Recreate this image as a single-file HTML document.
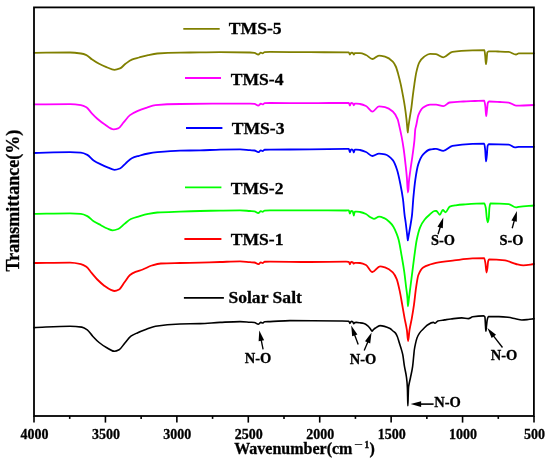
<!DOCTYPE html>
<html><head><meta charset="utf-8"><title>FTIR</title>
<style>
html,body{margin:0;padding:0;background:#fff;}
body{width:550px;height:461px;overflow:hidden;}
svg{display:block;}
text{font-family:'Liberation Serif', 'Times New Roman', serif;font-weight:bold;fill:#000;stroke:#000;stroke-width:0.3px;}
</style></head><body>
<svg width="550" height="461" viewBox="0 0 550 461">
<rect width="550" height="461" fill="#fff"/>
<path d="M34.00,52.80 C46.00,52.70 58.00,52.50 70.00,52.50 C73.63,52.50 77.27,52.96 80.90,53.50 C82.73,53.77 84.57,54.32 86.40,55.10 C88.20,55.86 90.00,58.05 91.80,59.30 C94.23,60.98 96.67,62.53 99.10,63.80 C101.53,65.07 103.97,66.16 106.40,67.10 C109.10,68.14 111.80,69.80 114.50,69.80 C116.33,69.80 118.17,69.12 120.00,68.40 C121.83,67.68 123.67,65.16 125.50,63.80 C127.60,62.24 129.70,60.45 131.80,59.60 C134.23,58.61 136.67,58.17 139.10,57.50 C142.13,56.66 145.17,55.74 148.20,55.10 C151.23,54.46 154.27,53.72 157.30,53.50 C164.87,52.96 172.43,52.72 180.00,52.60 C186.67,52.49 193.33,52.47 200.00,52.40 C206.67,52.33 213.33,52.20 220.00,52.20 C230.00,52.20 240.00,52.29 250.00,52.50 C251.50,52.53 253.00,52.62 254.50,52.80 C255.77,52.95 257.03,54.50 258.30,54.50 C259.17,54.50 260.03,52.65 260.90,52.65 C261.47,52.65 262.03,53.35 262.60,53.35 C263.30,53.35 264.00,52.09 264.70,52.05 C266.47,51.94 268.23,51.90 270.00,51.90 C283.33,51.90 296.67,52.12 310.00,52.20 C322.93,52.28 335.87,52.21 348.80,52.40 C349.17,52.41 349.53,54.60 349.90,54.60 C350.23,54.60 350.57,53.12 350.90,52.90 C351.13,52.75 351.37,52.60 351.60,52.60 C351.97,52.60 352.33,52.73 352.70,52.90 C353.07,53.07 353.43,54.60 353.80,54.60 C354.13,54.60 354.47,53.20 354.80,53.20 C355.37,53.20 355.93,53.20 356.50,53.20 C357.67,53.20 358.83,53.20 360.00,53.20 C362.00,53.20 364.00,54.19 366.00,55.00 C368.13,55.86 370.27,59.00 372.40,59.00 C374.60,59.00 376.80,55.60 379.00,55.60 C381.00,55.60 383.00,56.15 385.00,56.70 C387.60,57.42 390.20,59.07 392.80,61.60 C393.80,62.57 394.80,64.33 395.80,66.50 C396.63,68.31 397.47,71.44 398.30,74.40 C399.10,77.24 399.90,80.48 400.70,84.10 C401.47,87.57 402.23,91.70 403.00,95.90 C403.67,99.55 404.33,103.10 405.00,107.60 C405.50,110.98 406.00,114.84 406.50,119.40 C406.83,122.44 407.17,126.88 407.50,130.00 C407.60,130.94 407.70,132.60 407.80,132.60 C407.90,132.60 408.00,130.11 408.10,129.20 C408.57,124.94 409.03,122.48 409.50,119.40 C410.13,115.22 410.77,112.15 411.40,107.60 C411.87,104.25 412.33,99.56 412.80,95.90 C413.33,91.72 413.87,87.69 414.40,84.10 C415.03,79.84 415.67,75.22 416.30,72.40 C417.27,68.09 418.23,64.39 419.20,62.60 C420.83,59.58 422.47,57.86 424.10,56.70 C426.07,55.31 428.03,53.80 430.00,53.80 C432.00,53.80 434.00,53.97 436.00,54.20 C438.43,54.47 440.87,57.30 443.30,57.30 C446.33,57.30 449.37,52.22 452.40,51.80 C459.07,50.87 465.73,50.57 472.40,50.40 C476.40,50.30 480.40,50.20 484.40,50.20 C484.67,50.20 484.93,53.60 485.20,56.00 C485.43,58.10 485.67,64.20 485.90,64.20 C486.13,64.20 486.37,61.79 486.60,60.00 C486.83,58.21 487.07,52.91 487.30,52.50 C487.77,51.68 488.23,51.30 488.70,51.30 C491.80,51.30 494.90,51.42 498.00,51.50 C501.57,51.60 505.13,51.65 508.70,51.90 C511.13,52.07 513.57,54.50 516.00,54.50 C516.90,54.50 517.80,53.30 518.70,53.30 C523.80,53.30 528.90,53.30 534.00,53.30" fill="none" stroke="#808000" stroke-width="1.8" stroke-linejoin="round" stroke-linecap="round"/>
<path d="M34.00,104.40 C46.00,104.33 58.00,104.20 70.00,104.20 C73.63,104.20 77.27,104.56 80.90,105.10 C82.73,105.37 84.57,106.22 86.40,107.30 C88.20,108.36 90.00,111.42 91.80,113.30 C93.63,115.21 95.47,117.12 97.30,118.70 C99.70,120.77 102.10,122.64 104.50,124.20 C107.53,126.17 110.57,129.30 113.60,129.30 C115.13,129.30 116.67,128.90 118.20,128.40 C120.00,127.81 121.80,124.43 123.60,122.40 C125.73,120.00 127.87,116.69 130.00,115.10 C132.43,113.28 134.87,112.17 137.30,111.10 C140.33,109.77 143.37,108.79 146.40,107.80 C149.43,106.81 152.47,105.37 155.50,105.10 C163.67,104.38 171.83,104.09 180.00,104.00 C203.33,103.73 226.67,103.60 250.00,103.60 C251.50,103.60 253.00,103.72 254.50,103.90 C255.77,104.05 257.03,105.60 258.30,105.60 C259.17,105.60 260.03,103.75 260.90,103.75 C261.47,103.75 262.03,104.45 262.60,104.45 C263.30,104.45 264.00,103.19 264.70,103.15 C266.47,103.04 268.23,103.00 270.00,103.00 C283.33,103.00 296.67,103.20 310.00,103.20 C322.93,103.20 335.87,102.80 348.80,102.80 C349.17,102.80 349.53,105.60 349.90,105.60 C350.23,105.60 350.57,103.53 350.90,103.30 C351.13,103.14 351.37,103.00 351.60,103.00 C351.97,103.00 352.33,103.13 352.70,103.30 C353.07,103.47 353.43,105.30 353.80,105.30 C354.13,105.30 354.47,103.60 354.80,103.60 C355.37,103.60 355.93,103.60 356.50,103.60 C357.67,103.60 358.83,103.81 360.00,104.00 C362.00,104.33 364.00,105.04 366.00,106.00 C368.13,107.02 370.27,111.60 372.40,111.60 C374.60,111.60 376.80,106.40 379.00,106.40 C381.00,106.40 383.00,106.78 385.00,107.20 C387.60,107.74 390.20,109.28 392.80,111.50 C394.43,112.89 396.07,115.33 397.70,119.40 C398.17,120.56 398.63,123.00 399.10,125.00 C399.93,128.57 400.77,132.33 401.60,136.70 C402.27,140.19 402.93,143.92 403.60,148.50 C404.23,152.85 404.87,158.42 405.50,164.10 C405.97,168.29 406.43,172.25 406.90,177.80 C407.23,181.76 407.57,192.50 407.90,192.50 C408.07,192.50 408.23,190.94 408.40,189.50 C408.57,188.06 408.73,183.63 408.90,181.80 C409.40,176.30 409.90,173.67 410.40,170.00 C411.07,165.10 411.73,161.16 412.40,156.30 C413.07,151.44 413.73,147.36 414.40,140.70 C414.70,137.70 415.00,131.11 415.30,129.20 C415.63,127.07 415.97,126.48 416.30,125.00 C416.97,122.04 417.63,117.11 418.30,115.40 C419.93,111.20 421.57,108.73 423.20,107.60 C425.47,106.03 427.73,104.70 430.00,104.70 C432.00,104.70 434.00,104.70 436.00,104.70 C438.43,104.70 440.87,106.20 443.30,106.20 C445.40,106.20 447.50,102.80 449.60,102.50 C454.17,101.84 458.73,101.74 463.30,101.50 C467.20,101.29 471.10,101.17 475.00,101.00 C478.07,100.87 481.13,100.60 484.20,100.60 C484.57,100.60 484.93,103.45 485.30,106.00 C485.60,108.08 485.90,116.20 486.20,116.20 C486.47,116.20 486.73,112.19 487.00,110.00 C487.27,107.81 487.53,103.58 487.80,103.00 C488.23,102.06 488.67,101.50 489.10,101.50 C492.73,101.50 496.37,101.80 500.00,102.00 C502.90,102.16 505.80,102.25 508.70,102.60 C511.13,102.89 513.57,105.60 516.00,105.60 C517.20,105.60 518.40,105.60 519.60,105.60 C524.40,105.60 529.20,105.20 534.00,105.00" fill="none" stroke="#ff00ff" stroke-width="1.8" stroke-linejoin="round" stroke-linecap="round"/>
<path d="M34.00,153.00 C46.00,152.73 58.00,152.20 70.00,152.20 C73.63,152.20 77.27,152.39 80.90,152.70 C83.03,152.88 85.17,153.85 87.30,154.90 C89.40,155.94 91.50,158.98 93.60,160.40 C96.03,162.05 98.47,163.21 100.90,164.40 C103.33,165.59 105.77,166.66 108.20,167.60 C110.30,168.41 112.40,169.80 114.50,169.80 C116.33,169.80 118.17,169.18 120.00,168.50 C121.83,167.82 123.67,165.20 125.50,163.60 C127.60,161.76 129.70,159.21 131.80,158.20 C134.23,157.03 136.67,156.50 139.10,155.80 C142.13,154.93 145.17,154.05 148.20,153.50 C151.23,152.95 154.27,152.50 157.30,152.20 C164.87,151.45 172.43,150.73 180.00,150.60 C186.67,150.49 193.33,150.51 200.00,150.40 C206.67,150.29 213.33,149.71 220.00,149.60 C226.67,149.49 233.33,149.40 240.00,149.40 C243.33,149.40 246.67,149.96 250.00,150.20 C251.50,150.31 253.00,150.32 254.50,150.50 C255.77,150.65 257.03,152.20 258.30,152.20 C259.17,152.20 260.03,150.35 260.90,150.35 C261.47,150.35 262.03,151.05 262.60,151.05 C263.30,151.05 264.00,149.79 264.70,149.75 C266.47,149.64 268.23,149.62 270.00,149.60 C283.33,149.46 296.67,149.50 310.00,149.40 C322.00,149.31 334.00,149.17 346.00,148.90 C346.93,148.88 347.87,148.80 348.80,148.80 C349.17,148.80 349.53,152.20 349.90,152.20 C350.23,152.20 350.57,149.93 350.90,149.70 C351.13,149.54 351.37,149.40 351.60,149.40 C351.97,149.40 352.33,149.52 352.70,149.70 C353.07,149.88 353.43,152.50 353.80,152.50 C354.13,152.50 354.47,149.60 354.80,149.60 C355.37,149.60 355.93,149.60 356.50,149.60 C357.67,149.60 358.83,149.81 360.00,150.00 C362.00,150.33 364.00,151.13 366.00,152.00 C368.13,152.92 370.27,156.00 372.40,156.00 C374.60,156.00 376.80,153.60 379.00,153.60 C381.00,153.60 383.00,153.96 385.00,154.40 C387.60,154.97 390.20,157.13 392.80,160.20 C394.23,161.89 395.67,165.67 397.10,170.00 C398.17,173.22 399.23,178.42 400.30,183.70 C401.20,188.16 402.10,192.66 403.00,199.40 C403.53,203.39 404.07,210.96 404.60,215.20 C404.93,217.85 405.27,219.53 405.60,222.00 C406.20,226.45 406.80,231.94 407.40,237.00 C407.53,238.12 407.67,240.40 407.80,240.40 C408.00,240.40 408.20,238.15 408.40,237.00 C409.40,231.27 410.40,226.08 411.40,219.50 C411.60,218.18 411.80,216.97 412.00,215.20 C412.47,211.08 412.93,202.44 413.40,197.40 C414.03,190.56 414.67,184.13 415.30,179.80 C416.30,172.97 417.30,167.08 418.30,164.10 C419.93,159.23 421.57,156.17 423.20,154.40 C425.47,151.94 427.73,149.96 430.00,149.50 C431.33,149.23 432.67,149.15 434.00,149.00 C434.67,148.93 435.33,148.80 436.00,148.80 C438.43,148.80 440.87,150.80 443.30,150.80 C446.33,150.80 449.37,146.48 452.40,145.90 C459.07,144.62 465.73,143.98 472.40,143.80 C476.33,143.69 480.27,143.60 484.20,143.60 C484.53,143.60 484.87,147.01 485.20,150.00 C485.47,152.39 485.73,161.40 486.00,161.40 C486.27,161.40 486.53,158.34 486.80,156.00 C487.07,153.66 487.33,146.84 487.60,146.00 C487.97,144.84 488.33,144.10 488.70,144.10 C495.37,144.10 502.03,144.23 508.70,144.60 C510.83,144.72 512.97,147.40 515.10,147.40 C516.30,147.40 517.50,146.80 518.70,146.80 C523.80,146.80 528.90,146.80 534.00,146.80" fill="none" stroke="#0000ff" stroke-width="1.8" stroke-linejoin="round" stroke-linecap="round"/>
<path d="M34.00,213.80 C46.00,213.67 58.00,213.40 70.00,213.40 C73.63,213.40 77.27,213.59 80.90,213.90 C83.03,214.08 85.17,215.07 87.30,216.10 C89.40,217.11 91.50,219.82 93.60,221.20 C96.03,222.80 98.47,223.91 100.90,225.20 C103.03,226.33 105.17,227.64 107.30,228.50 C109.10,229.22 110.90,230.30 112.70,230.30 C114.53,230.30 116.37,229.66 118.20,229.00 C120.30,228.24 122.40,225.55 124.50,223.90 C126.63,222.22 128.77,220.00 130.90,219.00 C133.63,217.72 136.37,217.10 139.10,216.30 C142.13,215.41 145.17,214.49 148.20,213.90 C151.23,213.31 154.27,212.71 157.30,212.50 C164.87,211.98 172.43,211.86 180.00,211.60 C186.67,211.37 193.33,211.16 200.00,211.00 C206.67,210.84 213.33,210.69 220.00,210.60 C226.67,210.51 233.33,210.40 240.00,210.40 C243.33,210.40 246.67,210.79 250.00,211.00 C251.50,211.10 253.00,211.12 254.50,211.30 C255.77,211.45 257.03,213.00 258.30,213.00 C259.17,213.00 260.03,211.15 260.90,211.15 C261.47,211.15 262.03,211.85 262.60,211.85 C263.30,211.85 264.00,210.59 264.70,210.55 C266.47,210.44 268.23,210.40 270.00,210.40 C283.33,210.40 296.67,210.40 310.00,210.40 C322.00,210.40 334.00,210.50 346.00,210.50 C346.93,210.50 347.87,210.30 348.80,210.30 C349.17,210.30 349.53,213.60 349.90,213.60 C350.23,213.60 350.57,211.53 350.90,211.30 C351.13,211.14 351.37,211.00 351.60,211.00 C351.97,211.00 352.33,211.11 352.70,211.30 C353.07,211.49 353.43,215.50 353.80,215.50 C354.13,215.50 354.47,211.60 354.80,211.60 C355.37,211.60 355.93,211.60 356.50,211.60 C357.67,211.60 358.83,211.81 360.00,212.00 C362.00,212.33 364.00,213.05 366.00,214.00 C367.33,214.63 368.67,216.21 370.00,217.00 C371.30,217.77 372.60,218.90 373.90,218.90 C375.63,218.90 377.37,216.70 379.10,216.70 C380.83,216.70 382.57,217.48 384.30,218.20 C386.03,218.92 387.77,220.40 389.50,222.00 C390.80,223.20 392.10,224.67 393.40,226.70 C394.50,228.42 395.60,231.06 396.70,233.90 C397.37,235.62 398.03,237.44 398.70,240.00 C399.67,243.71 400.63,250.19 401.60,255.70 C402.47,260.64 403.33,265.22 404.20,271.30 C404.83,275.74 405.47,281.74 406.10,287.00 C406.57,290.88 407.03,292.86 407.50,298.70 C407.63,300.37 407.77,306.30 407.90,306.30 C408.23,306.30 408.57,301.26 408.90,298.70 C409.40,294.85 409.90,290.91 410.40,287.00 C411.07,281.78 411.73,276.52 412.40,271.30 C413.07,266.08 413.73,260.56 414.40,255.70 C415.17,250.11 415.93,243.77 416.70,240.00 C417.83,234.42 418.97,229.99 420.10,227.30 C421.63,223.66 423.17,221.43 424.70,219.50 C426.30,217.48 427.90,216.05 429.50,214.70 C431.30,213.19 433.10,210.80 434.90,210.80 C435.43,210.80 435.97,210.89 436.50,211.00 C437.60,211.23 438.70,214.80 439.80,214.80 C440.80,214.80 441.80,210.00 442.80,210.00 C443.73,210.00 444.67,212.30 445.60,212.30 C446.97,212.30 448.33,207.13 449.70,206.60 C451.73,205.81 453.77,205.59 455.80,205.30 C458.30,204.94 460.80,204.69 463.30,204.50 C470.27,203.98 477.23,203.40 484.20,203.40 C484.73,203.40 485.27,205.51 485.80,208.00 C486.13,209.55 486.47,216.00 486.80,218.00 C487.13,220.00 487.47,222.30 487.80,222.30 C488.13,222.30 488.47,220.40 488.80,218.00 C489.00,216.56 489.20,209.51 489.40,208.00 C489.73,205.48 490.07,203.40 490.40,203.40 C496.50,203.40 502.60,203.61 508.70,204.10 C511.13,204.30 513.57,207.40 516.00,207.40 C516.90,207.40 517.80,206.92 518.70,206.80 C523.80,206.10 528.90,205.93 534.00,205.50" fill="none" stroke="#00ff00" stroke-width="1.8" stroke-linejoin="round" stroke-linecap="round"/>
<path d="M34.00,263.00 C46.00,262.87 58.00,262.60 70.00,262.60 C73.63,262.60 77.27,263.27 80.90,264.10 C82.73,264.52 84.57,265.53 86.40,266.80 C88.20,268.05 90.00,271.10 91.80,273.20 C93.63,275.34 95.47,277.65 97.30,279.50 C99.70,281.92 102.10,284.14 104.50,285.90 C106.63,287.46 108.77,289.05 110.90,289.90 C112.10,290.38 113.30,291.00 114.50,291.00 C116.03,291.00 117.57,290.29 119.10,289.50 C120.90,288.57 122.70,284.69 124.50,282.30 C126.33,279.86 128.17,276.45 130.00,275.00 C131.83,273.55 133.67,272.68 135.50,271.90 C137.90,270.88 140.30,270.41 142.70,269.50 C145.73,268.36 148.77,266.39 151.80,265.50 C154.83,264.61 157.87,263.66 160.90,263.50 C167.27,263.17 173.63,263.14 180.00,263.00 C186.67,262.85 193.33,262.76 200.00,262.60 C206.67,262.44 213.33,262.20 220.00,262.00 C226.67,261.80 233.33,261.40 240.00,261.40 C243.33,261.40 246.67,261.96 250.00,262.20 C251.50,262.31 253.00,262.32 254.50,262.50 C255.77,262.65 257.03,264.20 258.30,264.20 C259.17,264.20 260.03,262.35 260.90,262.35 C261.47,262.35 262.03,263.05 262.60,263.05 C263.30,263.05 264.00,261.79 264.70,261.75 C266.47,261.64 268.23,261.60 270.00,261.60 C283.33,261.60 296.67,262.00 310.00,262.00 C322.00,262.00 334.00,261.70 346.00,261.70 C346.93,261.70 347.87,261.72 348.80,261.80 C349.17,261.83 349.53,264.30 349.90,264.30 C350.23,264.30 350.57,262.53 350.90,262.30 C351.13,262.14 351.37,262.00 351.60,262.00 C351.97,262.00 352.33,262.14 352.70,262.30 C353.07,262.46 353.43,263.70 353.80,263.70 C354.13,263.70 354.47,262.80 354.80,262.80 C355.37,262.80 355.93,262.80 356.50,262.80 C357.67,262.80 358.83,262.89 360.00,263.00 C362.00,263.18 364.00,263.98 366.00,265.00 C368.13,266.08 370.27,272.00 372.40,272.00 C374.93,272.00 377.47,266.40 380.00,266.40 C381.67,266.40 383.33,266.91 385.00,267.40 C387.60,268.16 390.20,269.77 392.80,272.30 C394.10,273.57 395.40,275.91 396.70,279.10 C397.70,281.56 398.70,286.30 399.70,290.90 C400.53,294.74 401.37,299.94 402.20,304.60 C403.00,309.07 403.80,313.96 404.60,318.30 C405.37,322.46 406.13,325.00 406.90,330.20 C407.30,332.92 407.70,341.10 408.10,341.10 C408.57,341.10 409.03,333.15 409.50,330.20 C410.27,325.35 411.03,322.64 411.80,318.30 C412.53,314.15 413.27,309.83 414.00,304.60 C414.63,300.09 415.27,293.21 415.90,288.90 C416.70,283.46 417.50,277.33 418.30,275.20 C419.93,270.85 421.57,268.53 423.20,267.40 C425.47,265.83 427.73,265.24 430.00,264.50 C432.00,263.85 434.00,263.28 436.00,262.90 C442.07,261.74 448.13,261.14 454.20,260.40 C460.27,259.66 466.33,258.64 472.40,258.40 C476.33,258.24 480.27,258.10 484.20,258.10 C484.60,258.10 485.00,260.77 485.40,263.00 C485.77,265.04 486.13,272.50 486.50,272.50 C486.80,272.50 487.10,269.92 487.40,268.00 C487.67,266.29 487.93,261.84 488.20,261.00 C488.50,260.06 488.80,259.30 489.10,259.30 C494.43,259.30 499.77,259.77 505.10,260.40 C508.73,260.83 512.37,263.18 516.00,264.00 C518.43,264.55 520.87,265.30 523.30,265.30 C526.87,265.30 530.43,264.43 534.00,264.00" fill="none" stroke="#ff0000" stroke-width="1.8" stroke-linejoin="round" stroke-linecap="round"/>
<path d="M34.00,327.60 C46.00,327.13 58.00,326.20 70.00,326.20 C73.93,326.20 77.87,326.53 81.80,327.10 C83.63,327.37 85.47,328.53 87.30,329.80 C89.10,331.05 90.90,334.26 92.70,336.20 C94.83,338.50 96.97,340.77 99.10,342.50 C101.53,344.47 103.97,346.14 106.40,347.50 C109.10,349.01 111.80,351.30 114.50,351.30 C116.03,351.30 117.57,350.57 119.10,349.80 C120.90,348.90 122.70,345.58 124.50,343.50 C126.63,341.04 128.77,337.72 130.90,336.20 C133.03,334.68 135.17,333.86 137.30,332.90 C140.33,331.53 143.37,330.41 146.40,329.30 C149.43,328.19 152.47,326.67 155.50,326.20 C163.67,324.93 171.83,324.26 180.00,324.00 C186.67,323.79 193.33,323.80 200.00,323.60 C206.67,323.40 213.33,322.72 220.00,322.40 C226.67,322.08 233.33,321.60 240.00,321.60 C243.33,321.60 246.67,321.99 250.00,322.20 C251.50,322.30 253.00,322.32 254.50,322.50 C255.77,322.65 257.03,324.20 258.30,324.20 C259.17,324.20 260.03,322.35 260.90,322.35 C261.47,322.35 262.03,323.05 262.60,323.05 C263.30,323.05 264.00,321.79 264.70,321.75 C266.47,321.64 268.23,321.66 270.00,321.60 C276.67,321.37 283.33,320.60 290.00,320.60 C306.67,320.60 323.33,320.78 340.00,321.00 C342.93,321.04 345.87,321.02 348.80,321.20 C349.17,321.22 349.53,323.40 349.90,323.40 C350.23,323.40 350.57,321.92 350.90,321.70 C351.13,321.55 351.37,321.40 351.60,321.40 C351.97,321.40 352.33,321.53 352.70,321.70 C353.07,321.87 353.43,323.70 353.80,323.70 C354.13,323.70 354.47,322.68 354.80,322.60 C355.37,322.47 355.93,322.40 356.50,322.40 C357.67,322.40 358.83,322.64 360.00,322.80 C361.33,322.98 362.67,323.14 364.00,323.50 C365.27,323.85 366.53,324.77 367.80,325.80 C368.70,326.53 369.60,327.84 370.50,329.00 C371.00,329.65 371.50,331.10 372.00,331.10 C372.50,331.10 373.00,329.96 373.50,329.50 C374.13,328.92 374.77,328.41 375.40,328.00 C376.93,327.01 378.47,325.60 380.00,325.60 C383.33,325.60 386.67,326.91 390.00,328.50 C390.97,328.96 391.93,330.19 392.90,331.00 C393.77,331.72 394.63,332.10 395.50,333.10 C396.13,333.83 396.77,335.18 397.40,336.70 C398.00,338.14 398.60,340.69 399.20,342.60 C399.83,344.62 400.47,346.36 401.10,348.50 C401.63,350.30 402.17,351.86 402.70,354.40 C403.30,357.26 403.90,363.07 404.50,366.70 C405.17,370.73 405.83,372.34 406.50,377.50 C406.80,379.82 407.10,381.87 407.40,388.00 C407.47,389.36 407.53,393.36 407.60,396.00 C407.68,399.30 407.77,405.80 407.85,405.80 C407.97,405.80 408.08,399.18 408.20,396.00 C408.30,393.27 408.40,389.20 408.50,388.00 C408.63,386.40 408.77,385.81 408.90,385.00 C409.43,381.77 409.97,380.11 410.50,377.50 C411.20,374.07 411.90,371.57 412.60,366.70 C412.97,364.15 413.33,359.62 413.70,356.00 C413.90,354.02 414.10,351.44 414.30,350.00 C414.67,347.36 415.03,345.78 415.40,344.10 C415.90,341.81 416.40,339.55 416.90,338.20 C417.77,335.86 418.63,334.33 419.50,333.10 C421.00,330.97 422.50,329.82 424.00,328.30 C425.13,327.15 426.27,325.70 427.40,325.00 C429.40,323.76 431.40,322.40 433.40,322.40 C434.00,322.40 434.60,323.20 435.20,323.20 C436.07,323.20 436.93,321.26 437.80,321.00 C440.10,320.31 442.40,320.25 444.70,319.90 C446.77,319.59 448.83,319.25 450.90,319.00 C454.53,318.56 458.17,317.90 461.80,317.90 C464.00,317.90 466.20,318.60 468.40,318.60 C469.83,318.60 471.27,317.02 472.70,316.80 C476.33,316.24 479.97,315.90 483.60,315.90 C484.03,315.90 484.47,316.22 484.90,317.00 C485.10,317.36 485.30,323.23 485.50,326.00 C485.63,327.85 485.77,331.20 485.90,331.20 C486.10,331.20 486.30,327.72 486.50,326.00 C486.73,323.99 486.97,321.01 487.20,320.00 C487.63,318.13 488.07,316.50 488.50,316.50 C492.00,316.50 495.50,316.54 499.00,316.60 C502.07,316.65 505.13,316.95 508.20,317.30 C510.63,317.58 513.07,318.32 515.50,318.80 C517.60,319.21 519.70,320.00 521.80,320.00 C523.93,320.00 526.07,319.72 528.20,319.50 C530.13,319.30 532.07,318.90 534.00,318.60" fill="none" stroke="#000000" stroke-width="1.6" stroke-linejoin="round" stroke-linecap="round"/>
<rect x="34" y="7.4" width="499.9" height="408.6" fill="none" stroke="#000" stroke-width="1.8"/><line x1="534.00" y1="416" x2="534.00" y2="422.6" stroke="#000" stroke-width="1.6"/><line x1="498.29" y1="416" x2="498.29" y2="418.9" stroke="#000" stroke-width="1.6"/><line x1="462.57" y1="416" x2="462.57" y2="422.6" stroke="#000" stroke-width="1.6"/><line x1="426.86" y1="416" x2="426.86" y2="418.9" stroke="#000" stroke-width="1.6"/><line x1="391.14" y1="416" x2="391.14" y2="422.6" stroke="#000" stroke-width="1.6"/><line x1="355.43" y1="416" x2="355.43" y2="418.9" stroke="#000" stroke-width="1.6"/><line x1="319.71" y1="416" x2="319.71" y2="422.6" stroke="#000" stroke-width="1.6"/><line x1="284.00" y1="416" x2="284.00" y2="418.9" stroke="#000" stroke-width="1.6"/><line x1="248.29" y1="416" x2="248.29" y2="422.6" stroke="#000" stroke-width="1.6"/><line x1="212.57" y1="416" x2="212.57" y2="418.9" stroke="#000" stroke-width="1.6"/><line x1="176.86" y1="416" x2="176.86" y2="422.6" stroke="#000" stroke-width="1.6"/><line x1="141.14" y1="416" x2="141.14" y2="418.9" stroke="#000" stroke-width="1.6"/><line x1="105.43" y1="416" x2="105.43" y2="422.6" stroke="#000" stroke-width="1.6"/><line x1="69.71" y1="416" x2="69.71" y2="418.9" stroke="#000" stroke-width="1.6"/><line x1="34.00" y1="416" x2="34.00" y2="422.6" stroke="#000" stroke-width="1.6"/>
<text transform="translate(534.50,438.7) scale(1,1.05)" font-size="14" text-anchor="middle">500</text><text transform="translate(463.07,438.7) scale(1,1.05)" font-size="14" text-anchor="middle">1000</text><text transform="translate(391.64,438.7) scale(1,1.05)" font-size="14" text-anchor="middle">1500</text><text transform="translate(320.21,438.7) scale(1,1.05)" font-size="14" text-anchor="middle">2000</text><text transform="translate(248.79,438.7) scale(1,1.05)" font-size="14" text-anchor="middle">2500</text><text transform="translate(177.36,438.7) scale(1,1.05)" font-size="14" text-anchor="middle">3000</text><text transform="translate(105.93,438.7) scale(1,1.05)" font-size="14" text-anchor="middle">3500</text><text transform="translate(34.50,438.7) scale(1,1.05)" font-size="14" text-anchor="middle">4000</text><line x1="183.3" y1="28.8" x2="219.7" y2="28.8" stroke="#808000" stroke-width="1.8"/><text transform="translate(228.8,34.4)" font-size="17.6">TMS-5</text><line x1="185.0" y1="78.0" x2="221.0" y2="78.0" stroke="#ff00ff" stroke-width="1.8"/><text transform="translate(230.7,85.0)" font-size="17.6">TMS-4</text><line x1="186.0" y1="128.0" x2="222.4" y2="128.0" stroke="#0000ff" stroke-width="1.8"/><text transform="translate(231.7,134.0)" font-size="17.6">TMS-3</text><line x1="185.0" y1="187.4" x2="221.4" y2="187.4" stroke="#00ff00" stroke-width="1.8"/><text transform="translate(230.7,193.6)" font-size="17.6">TMS-2</text><line x1="184.4" y1="239.0" x2="221.4" y2="239.0" stroke="#ff0000" stroke-width="1.8"/><text transform="translate(230.7,245.0)" font-size="17.6">TMS-1</text><line x1="183.9" y1="297.8" x2="223.9" y2="297.8" stroke="#000000" stroke-width="1.8"/><text transform="translate(228.4,302.7)" font-size="17.6">Solar Salt</text><line x1="438.00" y1="234.30" x2="440.44" y2="226.56" stroke="#000" stroke-width="1.35"/><polygon points="443.30,217.50 442.81,228.36 437.47,226.67" fill="#000"/><text x="431" y="244.6" font-size="14.4">S-O</text><line x1="512.20" y1="228.20" x2="514.40" y2="220.16" stroke="#000" stroke-width="1.35"/><polygon points="516.90,211.00 516.83,221.87 511.43,220.39" fill="#000"/><text x="499.4" y="245.4" font-size="14.4">S-O</text><line x1="263.10" y1="349.40" x2="261.17" y2="339.81" stroke="#000" stroke-width="1.35"/><polygon points="259.30,330.50 264.11,340.24 258.62,341.35" fill="#000"/><text x="244.8" y="362.8" font-size="14.5">N-O</text><line x1="358.20" y1="344.60" x2="354.47" y2="334.42" stroke="#000" stroke-width="1.35"/><polygon points="351.20,325.50 357.44,334.40 352.18,336.32" fill="#000"/><line x1="364.20" y1="350.60" x2="367.99" y2="341.39" stroke="#000" stroke-width="1.35"/><polygon points="371.60,332.60 370.20,343.38 365.02,341.25" fill="#000"/><text x="349.8" y="364" font-size="14.5">N-O</text><line x1="433.60" y1="404.10" x2="420.10" y2="404.10" stroke="#000" stroke-width="1.6"/><polygon points="410.60,404.10 421.10,401.30 421.10,406.90" fill="#000"/><text x="434.3" y="407" font-size="14.5">N-O</text><line x1="502.50" y1="347.50" x2="493.24" y2="335.60" stroke="#000" stroke-width="1.35"/><polygon points="487.40,328.10 496.06,334.67 491.64,338.11" fill="#000"/><text x="490.8" y="360.4" font-size="14.5">N-O</text><text x="234.2" y="454.3" font-size="16">Wavenumber(cm</text><text x="354" y="449.7" font-size="16" style="font-weight:normal;stroke:none">&#8722;</text><text x="364.2" y="447.8" font-size="10.2">1</text><text x="369.6" y="454.3" font-size="16">)</text><text transform="translate(19,271.4) rotate(-90)" font-size="18" x="0" y="0">Transmittance(%)</text>
</svg>
</body></html>
